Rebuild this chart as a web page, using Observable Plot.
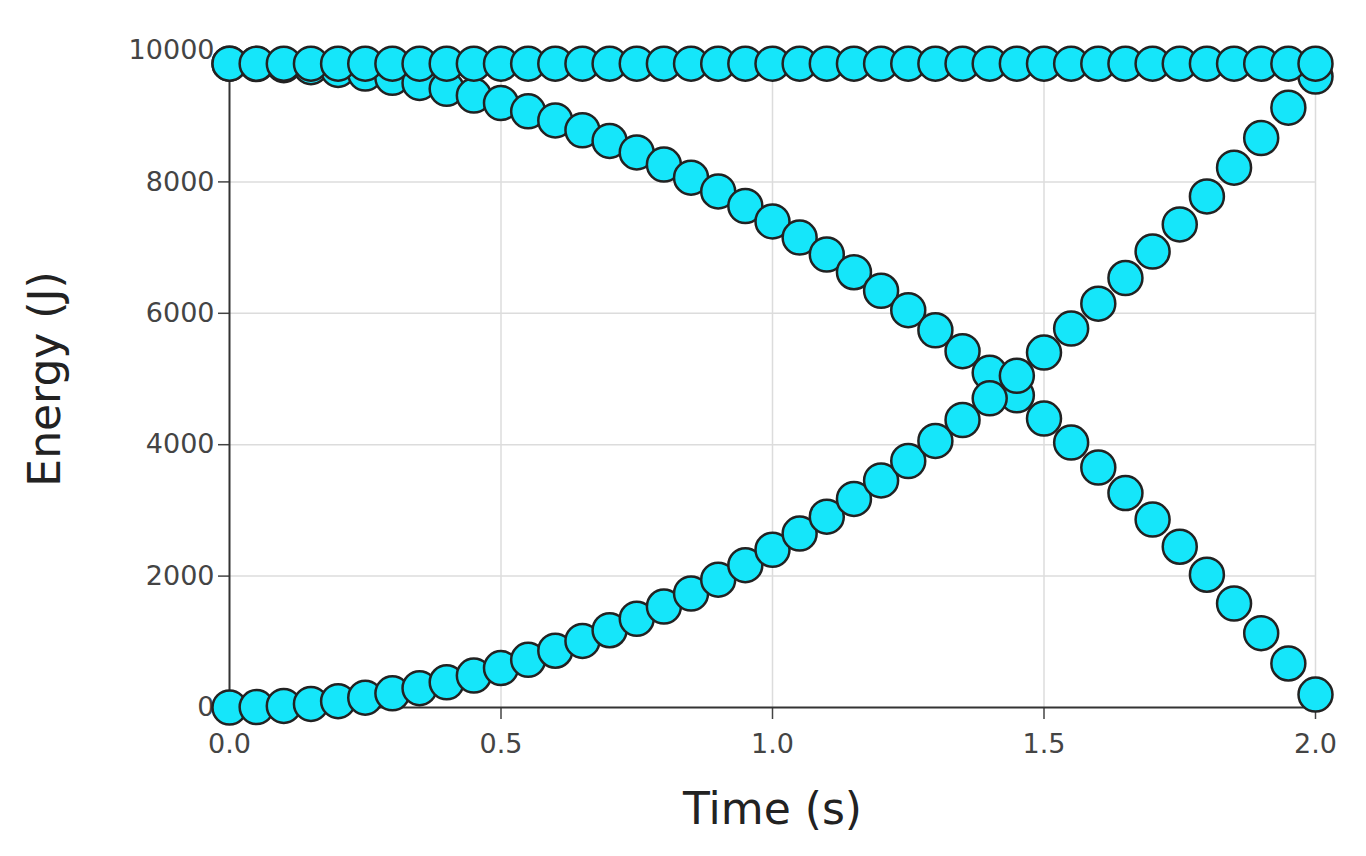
<!DOCTYPE html>
<html><head><meta charset="utf-8">
<script src="https://cdn.jsdelivr.net/npm/d3@7"></script>
<script src="https://cdn.jsdelivr.net/npm/@observablehq/plot@0.6"></script>
<style>body{margin:0;background:#fff}</style>
</head><body><div id="chart"></div>
<script>
const time = [0, 0.05, 0.1, 0.15, 0.2, 0.25, 0.3, 0.35, 0.4, 0.45, 0.5, 0.55, 0.6, 0.65, 0.7, 0.75, 0.8, 0.85, 0.9, 0.95, 1.0, 1.05, 1.1, 1.15, 1.2, 1.25, 1.3, 1.35, 1.4, 1.45, 1.5, 1.55, 1.6, 1.65, 1.7, 1.75, 1.8, 1.85, 1.9, 1.95, 2.0];
const kinetic = [0, 6, 24, 54, 96, 150, 216, 294, 384, 486, 600, 726, 864, 1014, 1176, 1351, 1537, 1735, 1945, 2167, 2401, 2647, 2905, 3175, 3457, 3752, 4058, 4376, 4706, 5048, 5402, 5768, 6147, 6537, 6939, 7353, 7779, 8217, 8668, 9130, 9604];
const potential = [9800, 9794, 9776, 9746, 9704, 9650, 9584, 9506, 9416, 9314, 9200, 9074, 8936, 8786, 8624, 8449, 8263, 8065, 7855, 7633, 7399, 7153, 6895, 6625, 6343, 6048, 5742, 5424, 5094, 4752, 4398, 4032, 3653, 3263, 2861, 2447, 2021, 1583, 1132, 670, 196];
const total = [9800, 9800, 9800, 9800, 9800, 9800, 9800, 9800, 9800, 9800, 9800, 9800, 9800, 9800, 9800, 9800, 9800, 9800, 9800, 9800, 9800, 9800, 9800, 9800, 9800, 9800, 9800, 9800, 9800, 9800, 9800, 9800, 9800, 9800, 9800, 9800, 9800, 9800, 9800, 9800, 9800];
const seriesNames = ["Potential", "Kinetic", "Total"];
const xTicks = [0, 0.5, 1.0, 1.5, 2.0];
const yTicks = [0, 2000, 4000, 6000, 8000, 10000];
const xTitle = "Time (s)";
const yTitle = "Energy (J)";

const rows = [];
[potential, kinetic, total].forEach((vals, s) =>
  vals.forEach((v, i) => rows.push({series: seriesNames[s], t: time[i], e: v})));

const chart = Plot.plot({
  width: 1366, height: 856,
  marginLeft: 229, marginRight: 51, marginTop: 50, marginBottom: 149,
  style: {fontFamily: "DejaVu Sans", background: "white", overflow: "visible"},
  x: {domain: [0, 2]},
  y: {domain: [0, 10000]},
  marks: [
    Plot.gridX(xTicks.slice(1), {stroke: "#dcdcdc", strokeOpacity: 1, strokeWidth: 1.5}),
    Plot.gridY(yTicks.slice(1, -1), {stroke: "#dcdcdc", strokeOpacity: 1, strokeWidth: 1.5}),
    Plot.axisX(xTicks, {tickSize: 12, tickPadding: 14, fontSize: 27, tickFormat: d => d.toFixed(1), color: "#444", strokeWidth: 1.5, label: null}),
    Plot.axisY(yTicks, {tickSize: 11, tickPadding: 4, fontSize: 27, tickFormat: d => String(d), color: "#444", strokeWidth: 1.5, label: null}),
    Plot.ruleX([0], {stroke: "#333", strokeWidth: 2}),
    Plot.ruleY([0], {stroke: "#333", strokeWidth: 2}),
    Plot.dot(rows, {x: "t", y: "e", r: 17, fill: "#15e6fa", fillOpacity: 1, stroke: "#222", strokeWidth: 2.5}),
    Plot.text([xTitle], {text: d => d, frameAnchor: "bottom", dy: 116, fontSize: 44, fill: "#222"}),
    Plot.text([yTitle], {text: d => d, frameAnchor: "left", textAnchor: "middle", dx: -184, rotate: -90, fontSize: 44, fill: "#222"})
  ]
});
document.getElementById("chart").appendChild(chart);
</script>
</body></html>
